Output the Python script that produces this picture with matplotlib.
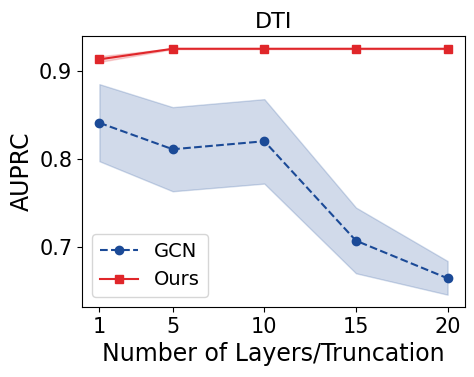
import numpy as np
import matplotlib.pyplot as plt

layers = [1, 5, 10, 15, 20]
gcn_mean = [0.8409, 0.8109, 0.8200, 0.7071, 0.6644]
gcn_upper = [0.8848, 0.8587, 0.8678, 0.7447, 0.6840]
gcn_lower = [0.7973, 0.7632, 0.7719, 0.6701, 0.6458]
ours_mean = [0.9130, 0.9250, 0.9250, 0.9250, 0.9250]
ours_upper = [0.9165, 0.9255, 0.9255, 0.9255, 0.9255]
ours_lower = [0.9100, 0.9245, 0.9245, 0.9245, 0.9245]

blue = '#1b4a97'
red = '#e0262a'

fig = plt.figure(figsize=(4.74, 3.77), dpi=100)
ax = fig.add_axes([0.173, 0.1857, 0.808, 0.7188])

ax.plot(layers, gcn_mean, '--', color=blue, marker='o', markersize=6, linewidth=1.5, label='GCN')
ax.fill_between(layers, gcn_lower, gcn_upper, color=blue, alpha=0.2)
ax.plot(layers, ours_mean, '-', color=red, marker='s', markersize=6, linewidth=1.5, label='Ours')
ax.fill_between(layers, ours_lower, ours_upper, color=red, alpha=0.2)

ax.set_xticks(layers)
ax.set_yticks([0.7, 0.8, 0.9])
ax.tick_params(labelsize=15)
ax.set_xlabel('Number of Layers/Truncation', fontsize=17)
ax.set_ylabel('AUPRC', fontsize=17)
ax.set_title('DTI', fontsize=16)
ax.legend(loc='lower left', fontsize=14)

fig.savefig('out.png', dpi=100)
